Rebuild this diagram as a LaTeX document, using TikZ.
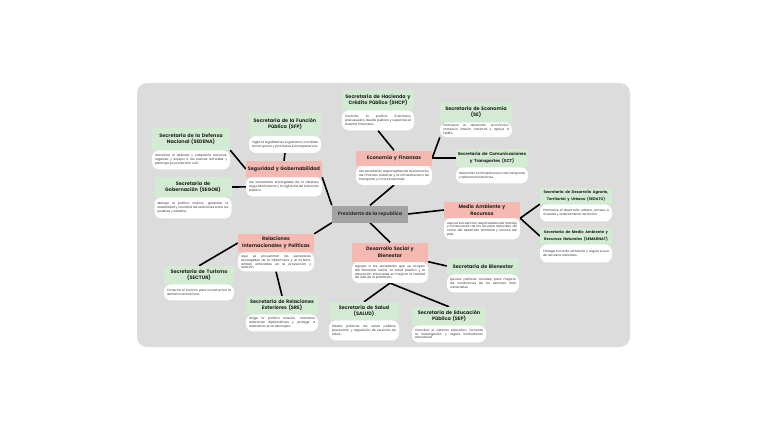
\documentclass[tikz,border=0pt]{standalone}
\usepackage{fontspec}
\setmainfont{Poppins}
\usetikzlibrary{positioning}
\pgfdeclarelayer{bg}
\pgfsetlayers{bg,main}
\definecolor{panel}{HTML}{DCDCDC}
\definecolor{gr}{HTML}{D3EBD3}
\definecolor{pk}{HTML}{F5B9B1}
\definecolor{pres}{HTML}{A3A3A3}
\hyphenpenalty=10000\relax
\tikzset{
 hdr/.style={anchor=center,inner sep=1pt,align=center,font=\fontsize{4.9}{6.9}\selectfont\bfseries,text=black!85},
 greenh/.style={hdr,fill=gr},
 pinkh/.style={hdr,fill=pk},
 bodyb/.style={anchor=north,fill=white,rounded corners=7pt,inner xsep=3pt,inner ysep=2pt,align=justify,font=\fontsize{3.1}{3.8}\selectfont,text=black!80},
 link/.style={line width=1.6pt,black}
}
\newcommand\mycard[8]{%
 \node[#4,minimum width=#3pt,text width=#3pt-2pt,minimum height=#7pt] (#1) at #2 {#5};
 \node[bodyb,text width=#3pt-6pt,minimum height=#8pt] (#1b) at (#1.south) {#6};
 \node[#4,minimum width=#3pt,text width=#3pt-2pt,minimum height=#7pt] at #2 {#5};
}
\begin{document}
\begin{tikzpicture}[x=1pt,y=-1pt]
\useasboundingbox (0,0) rectangle (768,431);
\begin{pgfonlayer}{bg}
\fill[white] (0,0) rectangle (768,431);
\fill[panel,rounded corners=10pt] (137,83) rectangle (630,347);
\end{pgfonlayer}

\node[fill=pres,minimum width=76pt,minimum height=17pt,inner sep=1pt,font=\fontsize{4.8}{6}\selectfont\bfseries,text=black!80] (pres) at (370,214) {Presidente de la republica};

\mycard{sedena}{(191,139)}{78}{greenh}{Secretaría de la Defensa\\Nacional (SEDENA)}{Garantiza la defensa y soberanía nacional, organiza y equipa a las fuerzas armadas y participa en protección civil.}{22}{19}
\mycard{sfp}{(285,124)}{72}{greenh}{Secretaría de la Función\\Pública (SFP)}{Vigila la legalidad en el gobierno, combate la corrupción y promueve la transparencia.}{23}{17}
\mycard{seg}{(284,169)}{76}{pinkh}{Seguridad y Gobernabilidad}{Las secretarías encargadas de la defensa, seguridad interna y la vigilancia de la función pública.}{16}{19}
\mycard{segob}{(193,187)}{77}{greenh}{Secretaría de\\Gobernación (SEGOB)}{Maneja la política interna, garantiza la estabilidad y coordina las relaciones entre los poderes y estados.}{20}{21}
\mycard{shcp}{(378,100)}{72}{greenh}{Secretaría de Hacienda y\\Crédito Público (SHCP)}{Controla la política financiera, presupuesto, deuda pública y supervisa el sistema financiero.}{20}{20}
\mycard{eco}{(394,158)}{76}{pinkh}{Economía y Finanzas}{Las secretarías responsables de la economía, las finanzas públicas y la infraestructura de transporte y comunicaciones.}{15}{19}
\mycard{se}{(476,112)}{72}{greenh}{Secretaría de Economía\\(SE)}{Promueve el desarrollo económico, comercio interior nacional y apoya a PyMEs.}{20}{14}
\mycard{sct}{(492,158)}{72}{greenh}{\fontsize{4.2}{6}\selectfont Secretaría de Comunicaciones\\\fontsize{4.2}{6}\selectfont y Transportes (SCT)}{Desarrolla la infraestructura de transporte y telecomunicaciones.}{18}{16}
\mycard{med}{(482,210)}{76}{pinkh}{Medio Ambiente y\\Recursos}{Aquí se encuentran responsables del manejo y conservación de los recursos naturales, así como del desarrollo territorial y urbano del país.}{16}{21}
\mycard{sedatu}{(576,196)}{72}{greenh}{\fontsize{3.7}{5.5}\selectfont Secretaría de Desarrollo Agrario,\\\fontsize{3.7}{5.5}\selectfont Territorial y Urbano (SEDATU)}{Promueve el desarrollo urbano, acceso a vivienda y ordenamiento territorial.}{16}{17}
\mycard{semar}{(576,236)}{72}{greenh}{\fontsize{3.7}{5.5}\selectfont Secretaría de Medio Ambiente y\\\fontsize{3.7}{5.5}\selectfont Recursos Naturales (SEMARNAT)}{Protege el medio ambiente y regula el uso de recursos naturales.}{16}{18}
\mycard{rel}{(276,243)}{76}{pinkh}{Relaciones\\Internacionales y Políticas}{Aquí se encuentran las secretarías encargadas de la diplomacia y el turismo, ambas enfocadas en la proyección y relación.}{18}{19}
\mycard{sectur}{(199,275)}{70}{greenh}{Secretaría de Turismo\\(SECTUR)}{Fomenta el turismo para incrementar la derrama económica.}{18}{16}
\mycard{sre}{(282,305)}{72}{greenh}{Secretaría de Relaciones\\Exteriores (SRE)}{Dirige la política exterior, mantiene relaciones diplomáticas y protege a mexicanos en el extranjero.}{18}{17}
\mycard{des}{(390,252)}{76}{pinkh}{Desarrollo Social y\\Bienestar}{Agrupa a las secretarías que se ocupan del bienestar social, la salud pública y la educación enfocadas en mejorar la calidad de vida de la población.}{19}{21}
\mycard{bien}{(483,266)}{72}{greenh}{Secretaría de Bienestar}{Ejecuta políticas sociales para mejorar las condiciones de los sectores más vulnerables.}{16}{18}
\mycard{salud}{(364,311)}{70}{greenh}{Secretaría de Salud\\(SALUD)}{Diseña políticas de salud pública, prevención y regulación de servicios de salud.}{18}{20}
\mycard{sep}{(449,316)}{74}{greenh}{Secretaría de Educación\\Pública (SEP)}{Coordina el sistema educativo, fomenta la investigación y regula instituciones educativas.}{18}{17}

\begin{pgfonlayer}{bg}
\draw[link] (pres.north west) -- (seg.south east);
\draw[link] (pres.north) -- (ecob.south);
\draw[link] (pres.east) -- (med.west);
\draw[link] (pres.south west) -- (rel.north east);
\draw[link] (pres.south) -- (des.north);
\draw[link] (sedenab.north east) -- (seg.west);
\draw[link] (sfpb.south) -- (seg.north);
\draw[link] (segob.east) -- (segb.west);
\draw[link] (shcpb.south) -- (eco.north);
\draw[link] (seb.south west) -- (eco.east);
\draw[link] (sct.west) -- (eco.east);
\draw[link] (medb.north east) -- (sedatub.north west);
\draw[link] (medb.north east) -- (semar.west);
\draw[link] (rel.west) -- (sectur.north);
\draw[link] (relb.south) -- (sre.north);
\draw[link] (desb.north east) -- (bien.west);
\draw[link] (desb.south) -- (salud.north);
\draw[link] (desb.south) -- (sep.north);
\end{pgfonlayer}
\end{tikzpicture}
\end{document}
